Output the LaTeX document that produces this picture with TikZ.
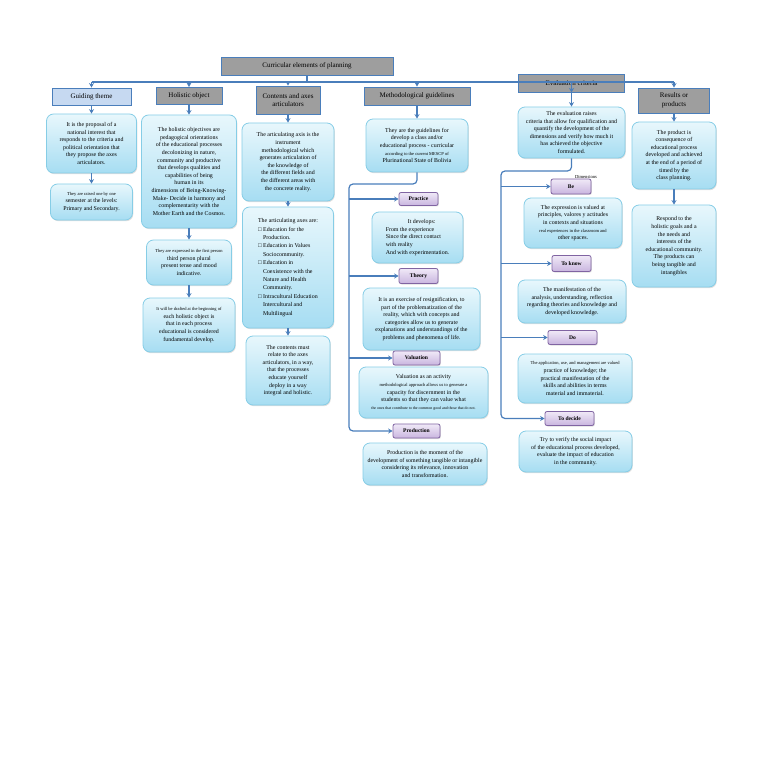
\documentclass[tikz,border=0pt]{standalone}
\usepackage{fontspec}
\setmainfont{Liberation Serif}
\usepackage{tikz}
\usetikzlibrary{arrows.meta,shadows}
\definecolor{linkblue}{HTML}{4A7EBB}
\definecolor{headgray}{HTML}{9E9E9E}
\definecolor{themeblue}{HTML}{C6D9F1}
\definecolor{boxline}{HTML}{86CDE6}
\definecolor{boxtop}{HTML}{E8F7FC}
\definecolor{boxbot}{HTML}{A6DDF2}
\definecolor{labline}{HTML}{8064A2}
\definecolor{labtop}{HTML}{F0E9F7}
\definecolor{labbot}{HTML}{C9B5DF}
\newcommand{\smtxt}[1]{{\fontsize{4.5}{7.6}\selectfont #1}}
\newcommand{\tinytxt}[1]{{\fontsize{3.9}{7.6}\selectfont #1}}

\begin{document}
\begin{tikzpicture}[x=1pt,y=-1pt,>={Stealth[length=4.5pt,width=5pt]},
    conn/.style={linkblue,line width=1.2pt},
    head/.style={draw=linkblue,line width=0.9pt,fill=headgray,align=center,inner sep=1pt,font=\fontsize{7}{8.4}\selectfont},
    txt/.style={draw=boxline,line width=0.8pt,rounded corners=7pt,top color=boxtop,bottom color=boxbot,align=center,inner sep=2pt,
      drop shadow={shadow xshift=0.8pt,shadow yshift=-1.2pt,opacity=0.25}},
    lab/.style={draw=labline,line width=0.8pt,rounded corners=2pt,top color=labtop,bottom color=labbot,inner sep=1pt,
      font=\fontsize{5.6}{6.5}\selectfont\bfseries,drop shadow={shadow xshift=0.8pt,shadow yshift=-1pt,opacity=0.25}}]
  \useasboundingbox (0,0) rectangle (768,762);
  \fontsize{5.9}{7.6}\selectfont
  \node[head,minimum width=172,minimum height=18] (cur) at (307,66) {Curricular elements of planning};
  \node[head,fill=themeblue,minimum width=79,minimum height=17] (gt) at (91.5,96.5) {Guiding theme};
  \node[head,minimum width=66,minimum height=17] (ho) at (189,96) {Holistic object};
  \node[head,minimum width=64,minimum height=28] (ca) at (288,100) {Contents and axes\\articulators};
  \node[head,minimum width=106,minimum height=18] (mg) at (417,96) {Methodological guidelines};
  \node[head,minimum width=106,minimum height=18] (ec) at (571.5,83) {Evaluation criteria};
  \node[head,minimum width=71,minimum height=25] (rp) at (674,100.5) {Results or\\products};

  \node[txt,minimum width=90,minimum height=59] (g1) at (91.5,143.5) {It is the proposal of a\\national interest that\\responds to the criteria and\\political orientation that\\they propose the axes\\articulators.};
  \node[txt,minimum width=82,minimum height=36] (g2) at (91.5,202) {\smtxt{They are raised one by one}\\semester at the levels:\\Primary and Secondary.};

  \node[txt,minimum width=95,minimum height=113] (h1) at (189,171.5) {The holistic objectives are\\pedagogical orientations\\of the educational processes\\decolonizing in nature,\\community and productive\\that develops qualities and\\capabilities of being\\human in its\\dimensions of Being-Knowing-\\Make- Decide in harmony and\\complementarity with the\\Mother Earth and the Cosmos.};
  \node[txt,minimum width=85,minimum height=45] (h2) at (189,262.5) {\smtxt{They are expressed in the first person}\\third person plural\\present tense and mood\\indicative.};
  \node[txt,minimum width=92,minimum height=54] (h3) at (189,325) {\smtxt{It will be drafted at the beginning of}\\each holistic object is\\that in each process\\educational is considered\\fundamental develop.};

  \node[txt,minimum width=92,minimum height=78] (c1) at (288,162) {The articulating axis is the\\instrument\\methodological which\\generates articulation of\\the knowledge of\\the different fields and\\the different areas with\\the concrete reality.};
  \node[txt,align=left,font=\fontsize{5.9}{8.4}\selectfont,minimum width=91,minimum height=121] (c2) at (288,267.5) {The articulating axes are:\\□ Education for the\\\hspace*{5pt}Production.\\□ Education in Values\\\hspace*{5pt}Sociocommunity.\\□ Education in\\\hspace*{5pt}Coexistence with the\\\hspace*{5pt}Nature and Health\\\hspace*{5pt}Community.\\□ Intracultural Education\\\hspace*{5pt}Intercultural and\\\hspace*{5pt}Multilingual};
  \node[txt,minimum width=84,minimum height=69] (c3) at (288,370.5) {The contents must\\relate to the axes\\articulators, in a way,\\that the processes\\educate yourself\\deploy in a way\\integral and holistic.};

  \node[txt,minimum width=102,minimum height=53] (m1) at (417,145.5) {They are the guidelines for\\develop a class and/or\\educational process - curricular\\\smtxt{according to the current MESCP of}\\Plurinational State of Bolivia};
  \node[lab,minimum width=39,minimum height=13] (pr) at (418.5,199) {Practice};
  \node[txt,align=left,minimum width=91,minimum height=51] (prt) at (417.5,237.5) {\hspace*{22pt}It develops:\\From the experience\\Since the direct contact\\with reality\\And with experimentation.};
  \node[lab,minimum width=39,minimum height=15] (th) at (418.5,276) {Theory};
  \node[txt,minimum width=117,minimum height=62] (tht) at (421.5,319) {It is an exercise of resignification, to\\part of the problematization of the\\reality, which with concepts and\\categories allow us to generate\\explanations and understandings of the\\problems and phenomena of life.};
  \node[lab,minimum width=47,minimum height=14] (va) at (416.5,358) {Valuation};
  \node[txt,minimum width=129,minimum height=51] (vat) at (423.5,392.5) {Valuation as an activity\\\smtxt{methodological approach allows us to generate a}\\capacity for discernment in the\\students so that they can value what\\\tinytxt{the ones that contribute to the common good and those that do not.}};
  \node[lab,minimum width=47,minimum height=14] (pd) at (416.5,431) {Production};
  \node[txt,minimum width=124,minimum height=42] (pdt) at (425,464) {Production is the moment of the\\development of something tangible or intangible\\considering its relevance, innovation\\and transformation.};

  \node[txt,minimum width=107,minimum height=51] (e1) at (571.5,132.5) {The evaluation raises\\criteria that allow for qualification and\\quantify the development of the\\dimensions and verify how much it\\has achieved the objective\\formulated.};
  \node[font=\fontsize{4.6}{5}\selectfont,inner sep=0pt] (dim) at (586,177) {Dimensions};
  \node[lab,minimum width=40,minimum height=15] (be) at (571,186.5) {Be};
  \node[txt,minimum width=98,minimum height=50] (bet) at (573,223) {The expression is valued at\\principles, valores y actitudes\\in contexts and situations\\\smtxt{real experiences in the classroom and}\\other spaces.};
  \node[lab,minimum width=39,minimum height=16] (tk) at (571.5,263.5) {To know};
  \node[txt,minimum width=108,minimum height=43] (tkt) at (572,301.5) {The manifestation of the\\analysis, understanding, reflection\\regarding theories and knowledge and\\developed knowledge.};
  \node[lab,minimum width=49,minimum height=14] (dv) at (572.5,337.5) {Do};
  \node[txt,minimum width=114,minimum height=49] (dvt) at (575,378.5) {\smtxt{The application, use, and management are valued}\\practice of knowledge; the\\practical manifestation of the\\skills and abilities in terms\\material and immaterial.};
  \node[lab,minimum width=49,minimum height=14] (td) at (569.5,418.5) {To decide};
  \node[txt,minimum width=113,minimum height=41] (tdt) at (575.5,451.5) {Try to verify the social impact\\of the educational process developed,\\evaluate the impact of education\\in the community.};

  \node[txt,minimum width=84,minimum height=67] (r1) at (674,155.5) {The product is\\consequence of\\educational process\\developed and achieved\\at the end of a period of\\timed by the\\class planning.};
  \node[txt,minimum width=84,minimum height=82] (r2) at (674,246) {Respond to the\\holistic goals and a\\the needs and\\interests of the\\educational community.\\The products can\\being tangible and\\intangibles};

  \coordinate (bus) at (307,82);
  \coordinate (mbus) at (349,184);
  \coordinate (ebus) at (501,171);
  \draw[conn] (cur) -- (bus);
  \draw[conn] (gt |- bus) -- (rp |- bus);
  \path[conn,->] (gt |- bus) edge (gt) (ho |- bus) edge (ho) (ca |- bus) edge (ca)
    (mg |- bus) edge (mg) (ec |- bus) edge (ec.south) (rp |- bus) edge (rp);
  \path[conn,->] (gt) edge (g1) (g1) edge (g2)
    (ho) edge (h1) (h1) edge (h2) (h2) edge (h3)
    (ca) edge (c1) (c1) edge (c2) (c2) edge (c3)
    (mg) edge (m1) (ec) edge (e1) (rp) edge (r1) (r1) edge (r2);
  \draw[conn,->,rounded corners=4pt] (m1) |- (mbus) |- (pd);
  \path[conn,->] (mbus |- pr) edge (pr) (mbus |- th) edge (th) (mbus |- va) edge (va);
  \draw[conn,->,rounded corners=4pt] (e1) |- (ebus) |- (td);
  \path[conn,->] (ebus |- be) edge (be) (ebus |- tk) edge (tk) (ebus |- dv) edge (dv);
\end{tikzpicture}
\end{document}
